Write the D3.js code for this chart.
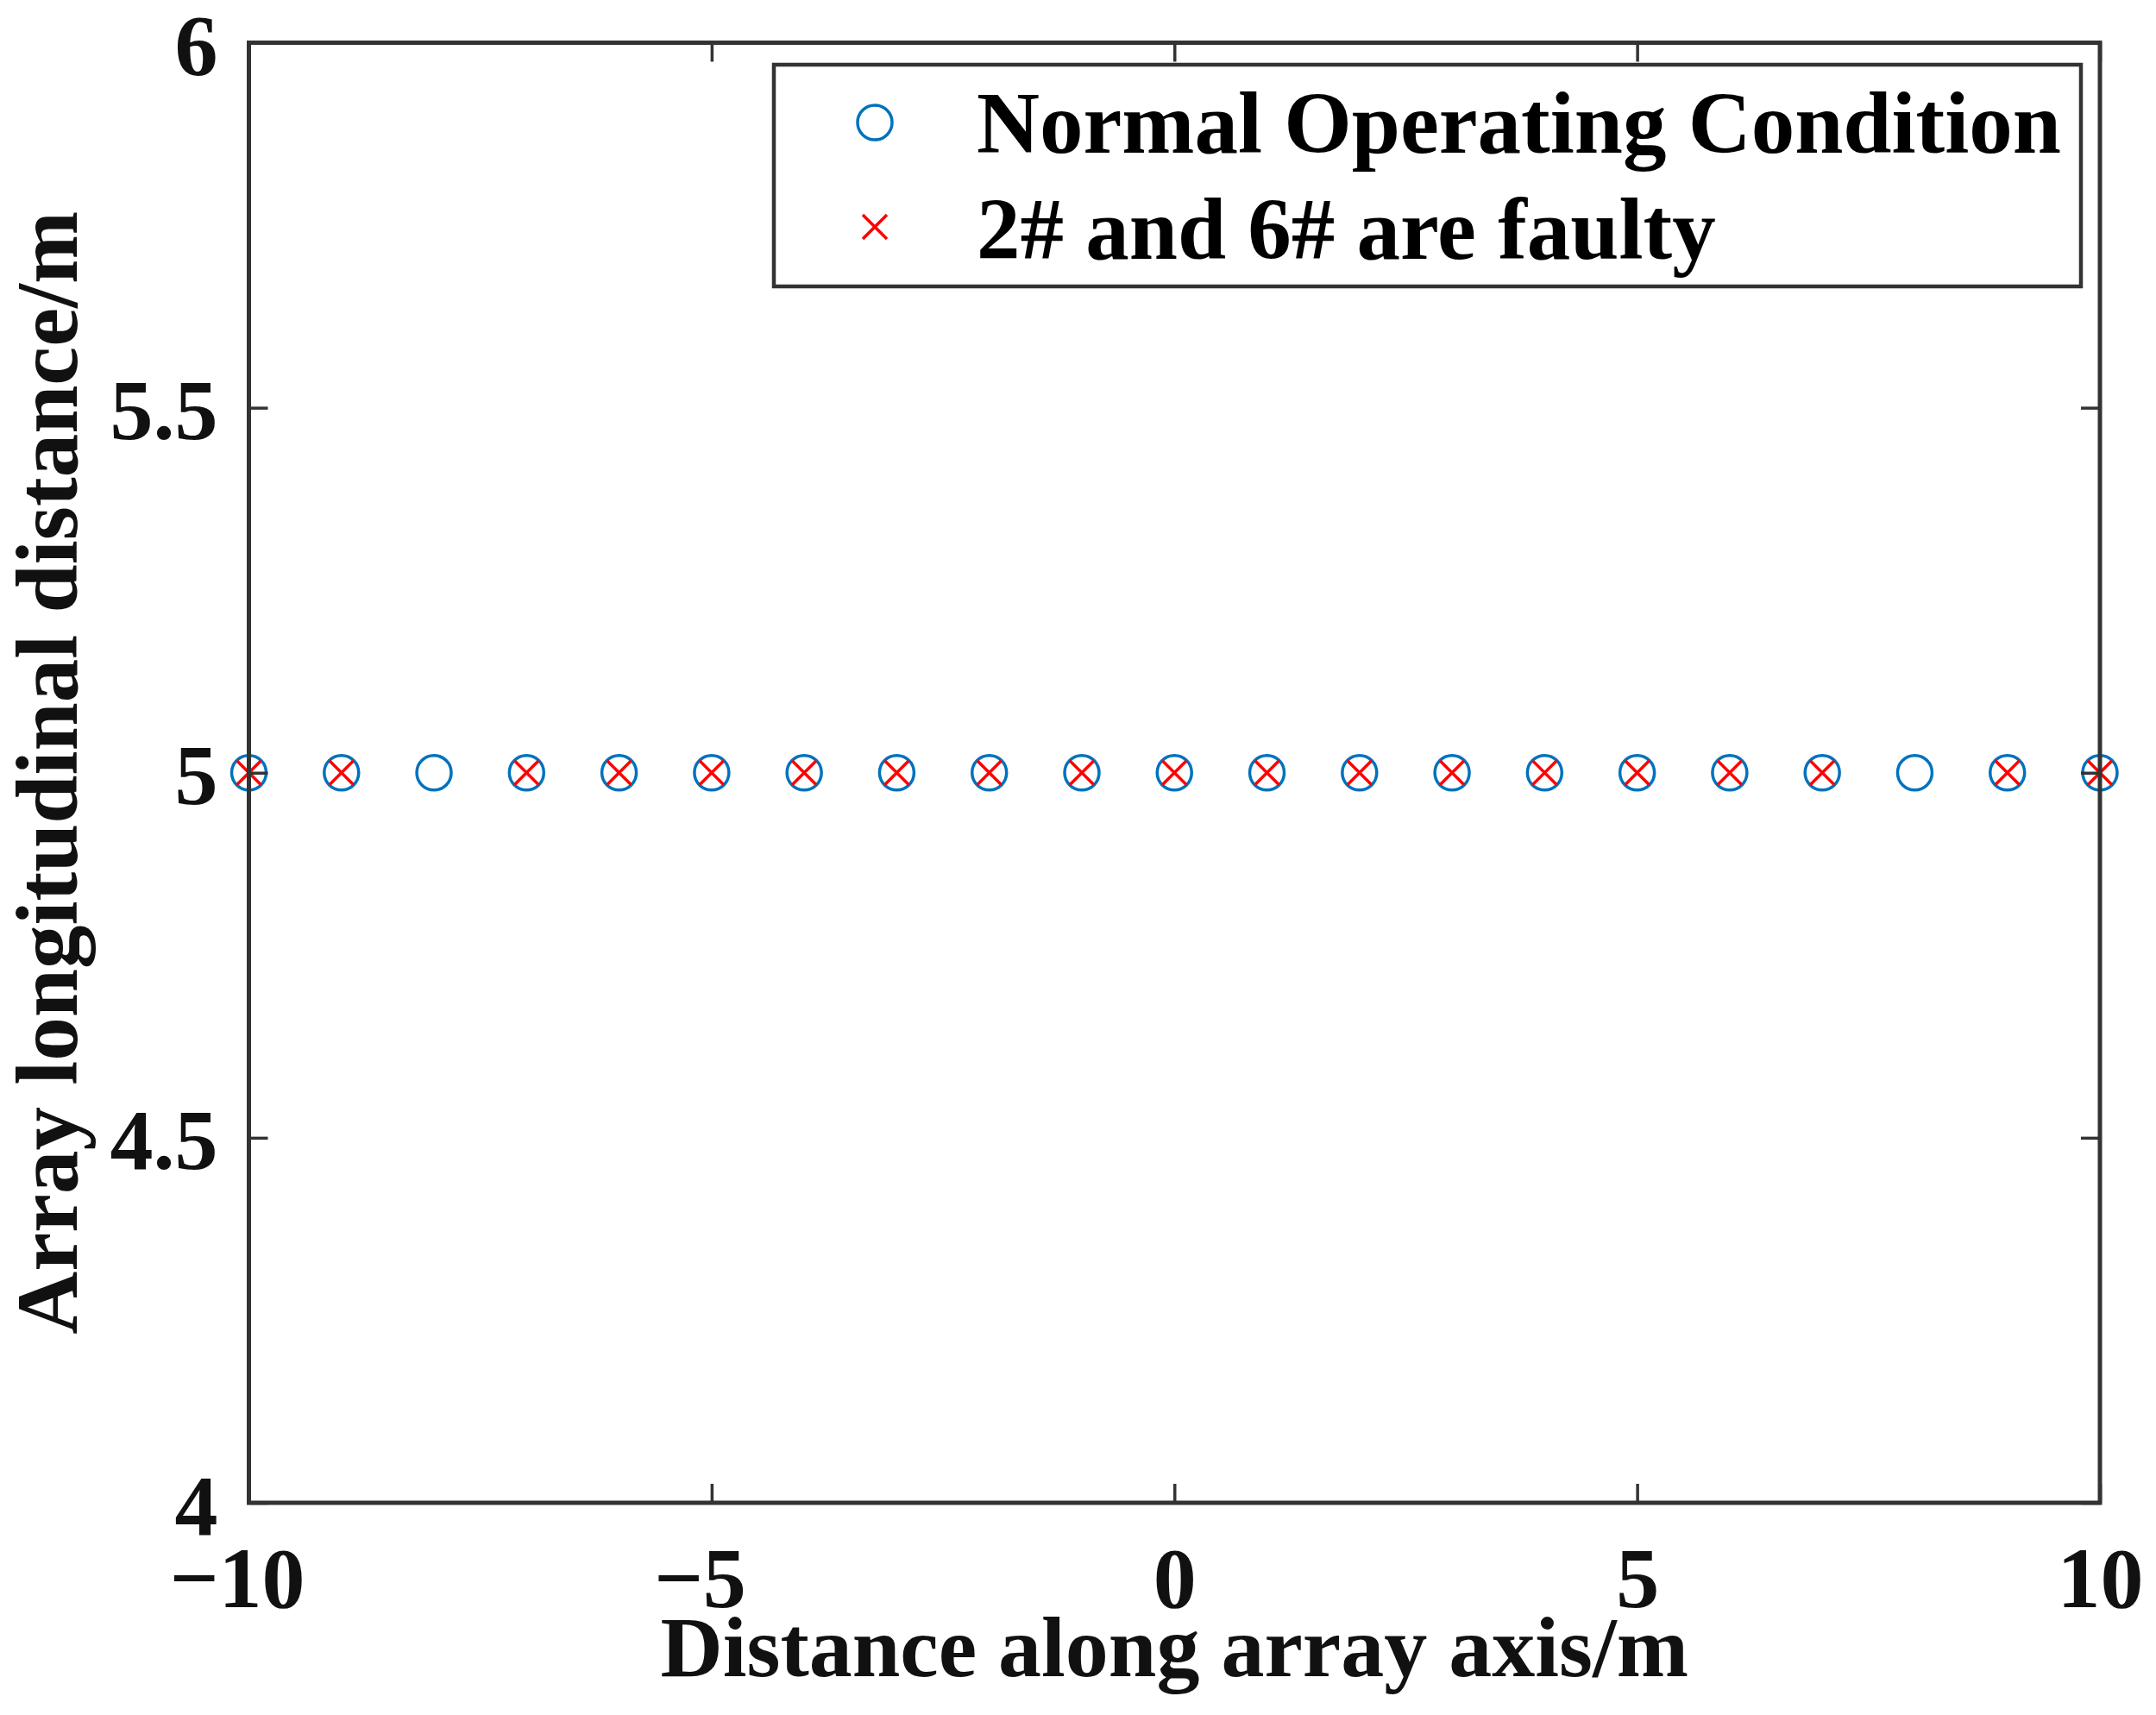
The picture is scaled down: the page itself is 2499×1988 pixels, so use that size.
<!DOCTYPE html>
<html lang="en">
<head>
    <meta charset="UTF-8">
    <title>Array positions</title>
    <script src="https://cdn.jsdelivr.net/npm/d3@7"></script>
    <style>
        body { margin: 0; background: #fff; }
        text { font-family: "Liberation Serif", "Times New Roman", serif; font-weight: bold; }
    </style>
</head>
<body>
    <div id="container"></div>
    <script>
        // element positions along the array (x) and their longitudinal distance (y)
        const normalX = [-10, -9, -8, -7, -6, -5, -4, -3, -2, -1, 0, 1, 2, 3, 4, 5, 6, 7, 8, 9, 10]
        const normalY = [5, 5, 5, 5, 5, 5, 5, 5, 5, 5, 5, 5, 5, 5, 5, 5, 5, 5, 5, 5, 5]
        // 2# and 6# faulty: the x=-8 and x=8 positions are missing
        const faultyX = [-10, -9, -7, -6, -5, -4, -3, -2, -1, 0, 1, 2, 3, 4, 5, 6, 7, 9, 10]
        const faultyY = [5, 5, 5, 5, 5, 5, 5, 5, 5, 5, 5, 5, 5, 5, 5, 5, 5, 5, 5]
        const xTicks = [-10, -5, 0, 5, 10]
        const yTicks = [4, 4.5, 5, 5.5, 6]
        const seriesNames = ["Normal Operating Condition", "2# and 6# are faulty"]

        const w = 2499, h = 1988
        const m = { left: 288.5, right: 65, top: 49.5, bottom: 246 }
        const blue = "#0072BD", red = "#FF0000", axisCol = "#333"
        const tickLen = 22

        const svg = d3.select("#container").append("svg").attr("width", w).attr("height", h)
        svg.append("rect").attr("width", w).attr("height", h).attr("fill", "#fff")

        const x = d3.scaleLinear([-10, 10], [m.left, w - m.right])
        const y = d3.scaleLinear([4, 6], [h - m.bottom, m.top])

        const fmt = d => (d < 0 ? "\u2212" + Math.abs(d) : String(d))

        // markers first, MATLAB draws the axes box over them
        const normal = normalX.map((d, i) => [d, normalY[i]])
        const faulty = faultyX.map((d, i) => [d, faultyY[i]])

        svg.append("g").selectAll("circle").data(normal).join("circle")
            .attr("cx", d => x(d[0])).attr("cy", d => y(d[1])).attr("r", 20)
            .attr("fill", "none").attr("stroke", blue).attr("stroke-width", 3.5)

        const cross = (sel, s) => sel.attr("d", `M${-s},${-s}L${s},${s}M${-s},${s}L${s},${-s}`)
            .attr("fill", "none").attr("stroke", red).attr("stroke-width", 3.5)

        svg.append("g").selectAll("path").data(faulty).join("path")
            .attr("transform", d => `translate(${x(d[0])},${y(d[1])})`)
            .call(cross, 14)

        // axes, ticks pointing inward
        const axB = svg.append("g").attr("transform", `translate(0,${y(4)})`)
            .call(d3.axisBottom(x).tickValues(xTicks).tickFormat(fmt).tickSizeInner(-tickLen).tickSizeOuter(0).tickPadding(50))
        const axL = svg.append("g").attr("transform", `translate(${x(-10)},0)`)
            .call(d3.axisLeft(y).tickValues(yTicks).tickFormat(d3.format("")).tickSizeInner(-tickLen).tickSizeOuter(0).tickPadding(36))
        const axT = svg.append("g").attr("transform", `translate(0,${y(6)})`)
            .call(d3.axisTop(x).tickValues(xTicks).tickFormat("").tickSizeInner(-tickLen).tickSizeOuter(0))
        const axR = svg.append("g").attr("transform", `translate(${x(10)},0)`)
            .call(d3.axisRight(y).tickValues(yTicks).tickFormat("").tickSizeInner(-tickLen).tickSizeOuter(0))

        for (const ax of [axB, axL, axT, axR]) {
            ax.select(".domain").remove()
            ax.selectAll(".tick line").attr("stroke", axisCol).attr("stroke-width", 3.5)
            ax.selectAll(".tick text").attr("fill", "#111").attr("font-size", 100)
                .attr("font-family", "'Liberation Serif', 'Times New Roman', serif").attr("font-weight", "bold")
        }
        axL.selectAll(".tick text").attr("dy", "0.36em")
        // matlab sets negative labels a little left of the tick
        axB.selectAll(".tick text").attr("dx", d => (d < 0 ? -14 : 0))

        svg.append("rect")
            .attr("x", x(-10)).attr("y", y(6))
            .attr("width", x(10) - x(-10)).attr("height", y(4) - y(6))
            .attr("fill", "none").attr("stroke", axisCol).attr("stroke-width", 5)

        // axis titles
        svg.append("text").attr("x", (x(-10) + x(10)) / 2).attr("y", 1943)
            .attr("text-anchor", "middle").attr("font-size", 100).attr("fill", "#111")
            .text("Distance along array axis/m")
        svg.append("text")
            .attr("transform", `translate(89,${(y(4) + y(6)) / 2}) rotate(-90)`)
            .attr("text-anchor", "middle").attr("font-size", 101).attr("fill", "#111")
            .text("Array longitudinal distance/m")

        // legend
        const lg = svg.append("g")
        lg.append("rect").attr("x", 897).attr("y", 75).attr("width", 1515).attr("height", 257)
            .attr("fill", "#fff").attr("stroke", axisCol).attr("stroke-width", 4.5)
        lg.append("circle").attr("cx", 1014).attr("cy", 142).attr("r", 20)
            .attr("fill", "none").attr("stroke", blue).attr("stroke-width", 3.5)
        lg.append("path").attr("transform", "translate(1014,263)").call(cross, 14)
        lg.selectAll("text.lab").data(seriesNames).join("text").attr("class", "lab")
            .attr("x", 1132).attr("y", (d, i) => [177, 300][i])
            .attr("font-size", 101).attr("fill", "#000").text(d => d)
    </script>
</body>
</html>
